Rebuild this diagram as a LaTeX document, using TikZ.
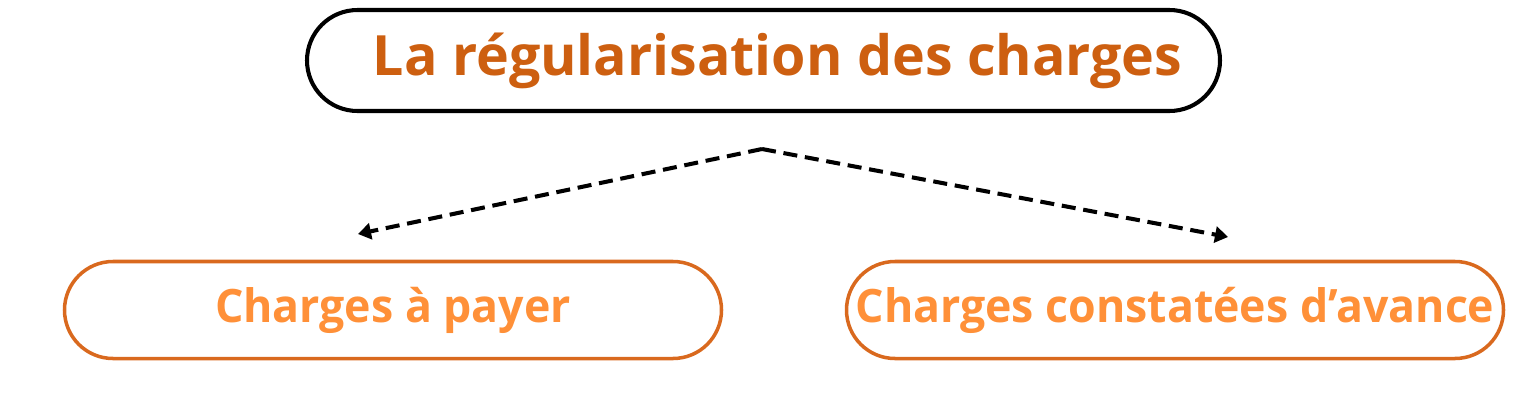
\documentclass[tikz,border=0pt]{standalone}
\usepackage{fontspec}
\setmainfont{Open Sans}
\newfontfamily\subfont[FakeStretch=0.97]{Open Sans}
\usetikzlibrary{arrows.meta}
\definecolor{titleorange}{HTML}{CD5F10}
\definecolor{suborange}{HTML}{FF9038}
\definecolor{boxorange}{HTML}{D9691E}

\begin{document}
\begin{tikzpicture}
\tikzset{pill/.style={rectangle,draw,inner sep=0pt},
subpill/.style={pill,draw=boxorange,line width=1pt,minimum width=6.57cm,minimum height=0.97cm,rounded corners=0.485cm,text=suborange,font=\subfont\bfseries\fontsize{13.1}{16}\selectfont},
arrowdash/.style={line width=1.15pt,dash pattern=on 4pt off 2.2pt,-{Triangle[length=3.7pt,width=4.6pt]}}}
\useasboundingbox (0,0) rectangle (15.36,4.15);
\node[pill,line width=1.15pt,minimum width=9.13cm,minimum height=1.01cm,rounded corners=0.505cm,text=titleorange,font=\bfseries\fontsize{15.8}{18}\selectfont] (title) at (7.635,3.545) {\hspace*{0.28cm}La régularisation des charges};
\node[subpill] (payer) at (3.93,1.05) {\raisebox{-0.03cm}{Charges à payer}};
\node[subpill] (avance) at (11.75,1.05) {\raisebox{-0.03cm}{Charges constatées d’avance}};
\coordinate (split) at (7.62,2.66);
\coordinate (leftend) at (3.58,1.81);
\coordinate (rightend) at (12.28,1.78);
\draw[arrowdash] (split) -- (leftend);
\draw[arrowdash] (split) -- (rightend);
\end{tikzpicture}
\end{document}
